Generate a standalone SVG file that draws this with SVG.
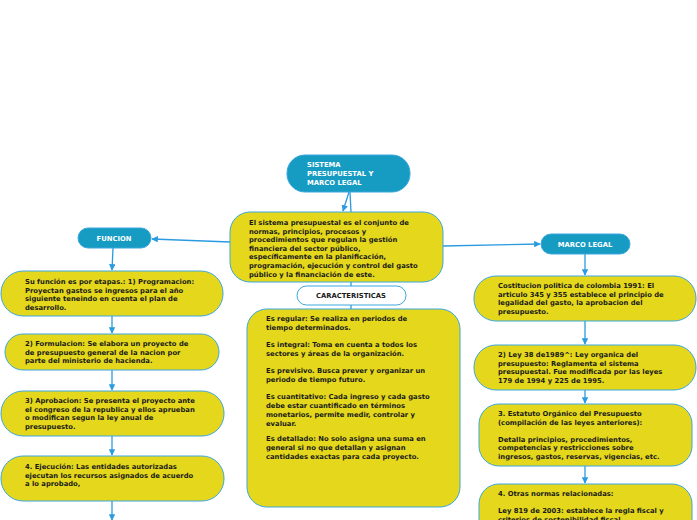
<svg xmlns="http://www.w3.org/2000/svg" width="697" height="520" viewBox="0 0 697 520">
<style>
.b{fill:#169bc3;stroke:#3aa7dd;stroke-width:1}
.y{fill:#e5d81c;stroke:#3aa7dd;stroke-width:1}
.w{fill:#fff;stroke:#3aa7dd;stroke-width:1}
text{font-family:"DejaVu Sans",Verdana,sans-serif;font-weight:bold;font-size:6.8px;fill:#1a1a1a}
.wt{fill:#fff}
.c{stroke:#2a9be0;stroke-width:1.3;fill:none}
</style>
<defs><marker id="a" viewBox="0 0 10 10" refX="9" refY="5" markerWidth="5" markerHeight="5" orient="auto"><path d="M0 0L10 5L0 10z" fill="#2a9be0"/></marker></defs>
<rect width="697" height="520" fill="#fff"/>
<g id="connectors">
<path class="c" d="M349 192L343 211" marker-end="url(#a)"/>
<path class="c" d="M350 192L351 212"/>
<path class="c" d="M230 242L152 239" marker-end="url(#a)"/>
<path class="c" d="M443 246L540 244" marker-end="url(#a)"/>
<path class="c" d="M351 282L351 286"/>
<path class="c" d="M351 305L351 309"/>
<path class="c" d="M113 248L112 270" marker-end="url(#a)"/>
<path class="c" d="M112 316L112 333" marker-end="url(#a)"/>
<path class="c" d="M112 370L112 390" marker-end="url(#a)"/>
<path class="c" d="M112 436L112 455" marker-end="url(#a)"/>
<path class="c" d="M112 501L112 520" marker-end="url(#a)"/>
<path class="c" d="M585 254L585 275" marker-end="url(#a)"/>
<path class="c" d="M585 321L585 344" marker-end="url(#a)"/>
<path class="c" d="M585 390L585 403" marker-end="url(#a)"/>
<path class="c" d="M585 466L585 483" marker-end="url(#a)"/>
</g>
<g id="root"><rect class="b" x="287" y="155" width="123" height="37" rx="18"/>
<text class="wt" x="307" y="167">SISTEMA</text><text class="wt" x="307" y="176">PRESUPUESTAL Y</text><text class="wt" x="307" y="185">MARCO LEGAL</text></g>
<g id="center"><rect class="y" x="230" y="212" width="213" height="70" rx="20"/>
<text x="249" y="225">El sistema presupuestal es el conjunto de</text>
<text x="249" y="233.6">normas, principios, procesos y</text>
<text x="249" y="242.2">procedimientos que regulan la gestión</text>
<text x="249" y="250.8">financiera del sector público,</text>
<text x="249" y="259.4">específicamente en la planificación,</text>
<text x="249" y="268">programación, ejecución y control del gasto</text>
<text x="249" y="276.6">público y la financiación de este.</text></g>
<g id="funcion"><rect class="b" x="78" y="228" width="73" height="20" rx="10"/><text class="wt" x="114" y="241" text-anchor="middle">FUNCION</text></g>
<g id="marco"><rect class="b" x="541" y="234" width="89" height="20" rx="10"/><text class="wt" x="585" y="247" text-anchor="middle">MARCO LEGAL</text></g>
<g id="caract"><rect class="w" x="297" y="286" width="109" height="19" rx="9.5"/><text x="351" y="298" text-anchor="middle">CARACTERISTICAS</text></g>
<g id="caractbox"><rect class="y" x="247" y="309" width="213" height="198" rx="20"/>
<text x="266" y="321">Es regular:  Se realiza en periodos de</text>
<text x="266" y="330">tiempo determinados.</text>
<text x="266" y="347">Es integral:  Toma en cuenta a todos los</text>
<text x="266" y="356">sectores y áreas de la organización.</text>
<text x="266" y="373">Es previsivo. Busca prever y organizar un</text>
<text x="266" y="382">periodo de tiempo futuro.</text>
<text x="266" y="399">Es cuantitativo: Cada ingreso y cada gasto</text>
<text x="266" y="408">debe estar cuantificado en términos</text>
<text x="266" y="417">monetarios, permite medir, controlar y</text>
<text x="266" y="426">evaluar.</text>
<text x="266" y="441">Es detallado: No solo asigna una suma en</text>
<text x="266" y="450">general si no que detallan y asignan</text>
<text x="266" y="459">cantidades exactas para cada proyecto.</text></g>
<g id="f1"><rect class="y" x="1" y="271" width="222" height="45" rx="22"/>
<text x="25" y="284">Su función es por etapas.: 1) Programacion:</text>
<text x="25" y="292.5">Proyectan gastos se ingresos para el año</text>
<text x="25" y="301">siguiente teneindo en cuenta el plan de</text>
<text x="25" y="309.5">desarrollo.</text></g>
<g id="f2"><rect class="y" x="5" y="334" width="214" height="36" rx="18"/>
<text x="25" y="346">2) Formulacion: Se elabora un proyecto de</text>
<text x="25" y="354.5">de presupuesto general de la nacion por</text>
<text x="25" y="363">parte del ministerio de hacienda.</text></g>
<g id="f3"><rect class="y" x="1" y="391" width="223" height="45" rx="22"/>
<text x="25" y="403">3) Aprobacion: Se presenta el proyecto ante</text>
<text x="25" y="411.5">el congreso de la republica y ellos aprueban</text>
<text x="25" y="420">o modifican segun la ley anual de</text>
<text x="25" y="428.5">presupuesto.</text></g>
<g id="f4"><rect class="y" x="1" y="456" width="223" height="45" rx="22"/>
<text x="25" y="469">4. Ejecución: Las entidades autorizadas</text>
<text x="25" y="477.5">ejecutan los recursos asignados de acuerdo</text>
<text x="25" y="486">a lo aprobado,</text></g>
<g id="m1"><rect class="y" x="474" y="276" width="222" height="45" rx="22"/>
<text x="498" y="288">Costitucion politica de colombia 1991: El</text>
<text x="498" y="296.5">articulo 345 y 355 establece el principio de</text>
<text x="498" y="305">legalidad del gasto, la aprobacion del</text>
<text x="498" y="313.5">presupuesto.</text></g>
<g id="m2"><rect class="y" x="474" y="345" width="222" height="45" rx="22"/>
<text x="498" y="357">2) Ley 38 de1989^: Ley organica del</text>
<text x="498" y="365.5">presupuesto: Reglamenta el sistema</text>
<text x="498" y="374">presupuestal. Fue modificada por las leyes</text>
<text x="498" y="382.5">179 de 1994 y 225 de 1995.</text></g>
<g id="m3"><rect class="y" x="479" y="404" width="213" height="62" rx="20"/>
<text x="498" y="416">3. Estatuto Orgánico del Presupuesto</text>
<text x="498" y="424.5">(compilación de las leyes anteriores):</text>
<text x="498" y="441.5">Detalla principios, procedimientos,</text>
<text x="498" y="450">competencias y restricciones sobre</text>
<text x="498" y="458.5">ingresos, gastos, reservas, vigencias, etc.</text></g>
<g id="m4"><rect class="y" x="479" y="484" width="213" height="60" rx="20"/>
<text x="498" y="496">4. Otras normas relacionadas:</text>
<text x="498" y="513">Ley 819 de 2003: establece la regla fiscal y</text>
<text x="498" y="521.5">criterios de sostenibilidad fiscal.</text></g>
</svg>
